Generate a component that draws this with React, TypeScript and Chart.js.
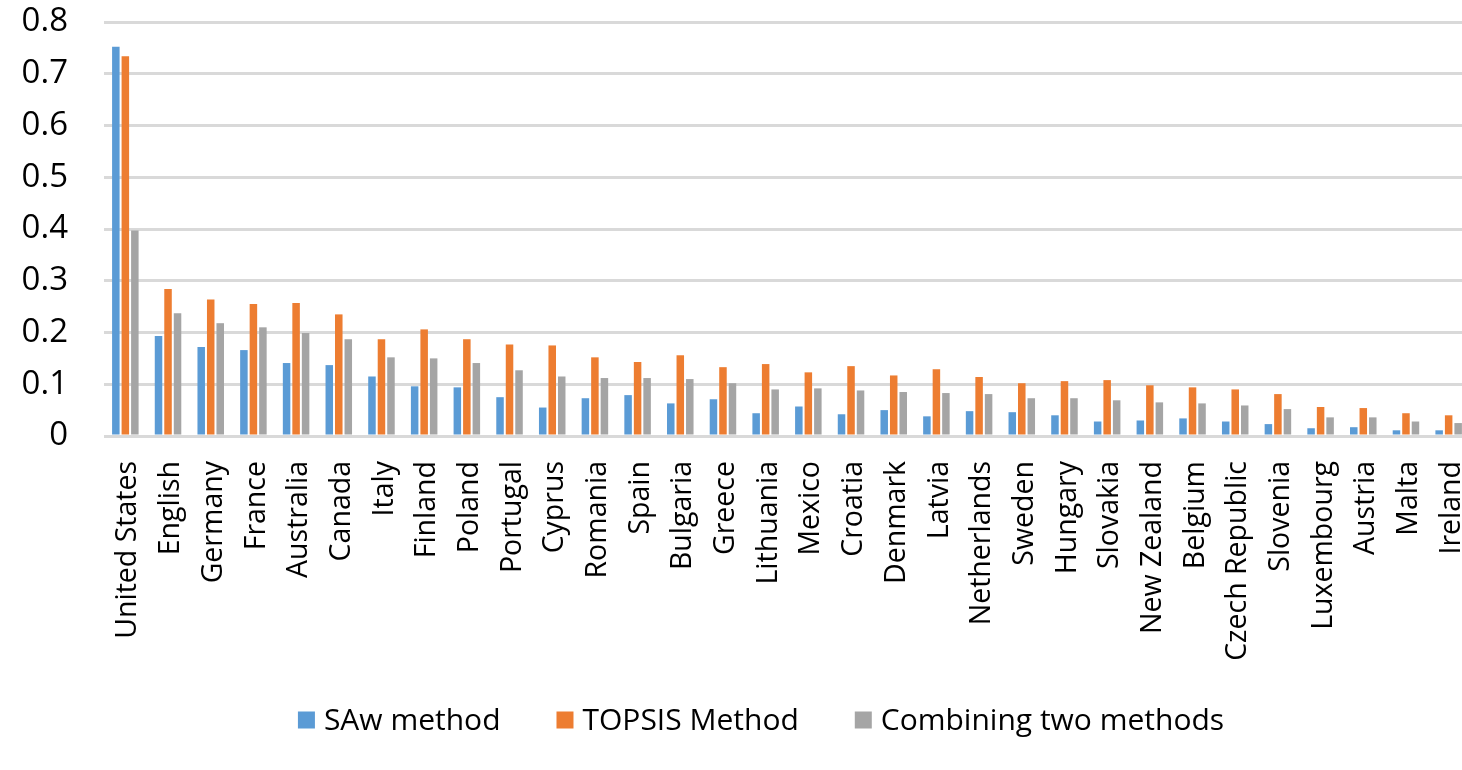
import React, { useEffect, useRef } from "react";
import { Chart, registerables } from "chart.js";

Chart.register(...registerables);

const countries = [
  "United States", "English", "Germany", "France", "Australia", "Canada", "Italy", "Finland",
  "Poland", "Portugal", "Cyprus", "Romania", "Spain", "Bulgaria", "Greece", "Lithuania",
  "Mexico", "Croatia", "Denmark", "Latvia", "Netherlands", "Sweden", "Hungary", "Slovakia",
  "New Zealand", "Belgium", "Czech Republic", "Slovenia", "Luxembourg", "Austria", "Malta", "Ireland",
];

const sawMethod = [
  0.752, 0.193, 0.172, 0.166, 0.141, 0.137, 0.115, 0.096, 0.094, 0.075, 0.055, 0.073, 0.079, 0.063,
  0.071, 0.044, 0.057, 0.042, 0.05, 0.038, 0.048, 0.046, 0.04, 0.028, 0.03, 0.034, 0.028, 0.023,
  0.015, 0.017, 0.011, 0.011,
];

const topsisMethod = [
  0.734, 0.284, 0.264, 0.255, 0.257, 0.235, 0.187, 0.206, 0.187, 0.177, 0.175, 0.152, 0.143, 0.156,
  0.133, 0.139, 0.123, 0.135, 0.117, 0.129, 0.114, 0.102, 0.106, 0.108, 0.098, 0.094, 0.09, 0.081,
  0.056, 0.054, 0.044, 0.04,
];

const combinedMethods = [
  0.397, 0.237, 0.218, 0.21, 0.199, 0.187, 0.152, 0.15, 0.141, 0.127, 0.115, 0.112, 0.112, 0.11,
  0.102, 0.09, 0.092, 0.088, 0.085, 0.083, 0.081, 0.073, 0.073, 0.069, 0.065, 0.063, 0.059, 0.052,
  0.036, 0.036, 0.028, 0.025,
];

const seriesNames = ["SAw method", "TOPSIS Method", "Combining two methods"];
const seriesColors = ["#5B9BD5", "#ED7D31", "#A5A5A5"];
const yTicks = [0, 0.1, 0.2, 0.3, 0.4, 0.5, 0.6, 0.7, 0.8];

const LEGEND_FONT = "30px 'Open Sans'";

// Legend row drawn under the category labels, centred on a fixed x
const bottomLegend = {
  id: "bottomLegend",
  afterDraw(chart: any) {
    const ctx = chart.ctx as CanvasRenderingContext2D;
    const datasets = chart.data.datasets;
    const box = 17;
    const boxGap = 9;
    const itemGap = 56;
    const centerY = 720;
    ctx.save();
    ctx.font = LEGEND_FONT;
    ctx.textBaseline = "middle";
    ctx.textAlign = "left";
    const widths = datasets.map((d: any) => ctx.measureText(d.label).width);
    const total =
      widths.reduce((a: number, b: number) => a + b, 0) +
      datasets.length * (box + boxGap) +
      (datasets.length - 1) * itemGap;
    let x = 761 - total / 2;
    datasets.forEach((d: any, i: number) => {
      ctx.fillStyle = d.backgroundColor;
      ctx.fillRect(x, centerY - box / 2, box, box);
      x += box + boxGap;
      ctx.fillStyle = "#000";
      ctx.fillText(d.label, x, centerY + 1);
      x += widths[i] + itemGap;
    });
    ctx.restore();
  },
};

export default function App() {
  const canvasRef = useRef<HTMLCanvasElement | null>(null);

  useEffect(() => {
    if (!canvasRef.current) return;
    const values = [sawMethod, topsisMethod, combinedMethods];
    const chart = new Chart(canvasRef.current, {
      type: "bar",
      data: {
        labels: countries,
        datasets: seriesNames.map((name, i) => ({
          label: name,
          data: values[i],
          backgroundColor: seriesColors[i],
          borderWidth: 0,
          categoryPercentage: 0.668,
          barPercentage: 0.79,
        })),
      },
      options: {
        responsive: false,
        animation: false,
        layout: { padding: { top: 22, right: 0, bottom: 0, left: 0 } },
        plugins: {
          legend: { display: false },
          tooltip: { enabled: false },
        },
        scales: {
          x: {
            grid: { display: false, drawTicks: false },
            border: { display: false },
            ticks: {
              autoSkip: false,
              minRotation: 90,
              maxRotation: 90,
              padding: 25,
              labelOffset: 3,
              color: "#000",
              font: { family: "'Open Sans'", size: 28.5 },
            },
            afterFit: (scale: any) => {
              scale.height = 334;
              scale.paddingLeft = 0;
              scale.paddingRight = 0;
            },
          },
          y: {
            min: 0,
            max: 0.8,
            afterBuildTicks: (scale: any) => {
              scale.ticks = yTicks.map((v) => ({ value: v }));
            },
            grid: { color: "#D9D9D9", lineWidth: 3, drawTicks: false },
            border: { display: false },
            ticks: {
              padding: 36,
              color: "#000",
              font: { family: "'Open Sans'", size: 33 },
              callback: (v: any) => String(Number(Number(v).toFixed(1))),
            },
            afterFit: (scale: any) => {
              scale.width = 104;
              scale.paddingTop = 0;
              scale.paddingBottom = 0;
            },
          },
        },
      },
      plugins: [bottomLegend],
    });
    return () => chart.destroy();
  }, []);

  return (
    <div
      style={{
        position: "fixed",
        left: 0,
        top: 0,
        width: 1462,
        height: 770,
        overflow: "hidden",
        background: "#fff",
      }}
    >
      <canvas ref={canvasRef} width={1470} height={770} style={{ display: "block" }} />
    </div>
  );
}
